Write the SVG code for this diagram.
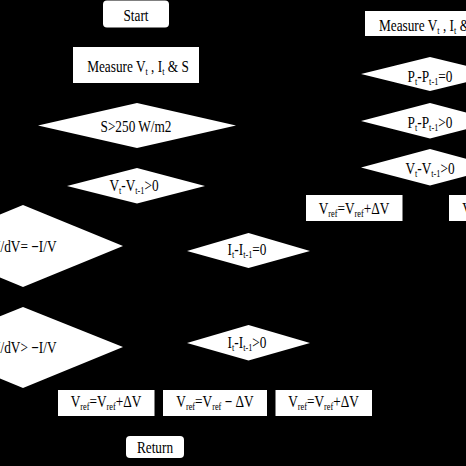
<svg xmlns="http://www.w3.org/2000/svg" width="466" height="466" viewBox="0 0 466 466">
  <style>
    .shape { fill: #ffffff; stroke: none; }
    .lbl { font-family: "Liberation Serif", "DejaVu Serif", serif; font-size: 16px; fill: #000000; text-anchor: middle; }
    .lbl.left { text-anchor: start; }
    .sub { font-size: 10px; }
    .minus { font-weight: bold; }
  </style>
  <rect width="466" height="466" fill="#000000"/>

  <!-- left column -->
  <g id="start">
    <rect class="shape" x="103" y="0.5" width="66" height="27" rx="4"/>
    <g transform="translate(136,20.5) scale(0.83,1)"><text class="lbl" font-family="Liberation Serif, serif">Start</text></g>
  </g>
  <g id="measure">
    <rect class="shape" x="73" y="47" width="126" height="36"/>
    <g transform="translate(138,71.5) scale(0.83,1)"><text class="lbl" font-family="Liberation Serif, serif">Measure V<tspan class="sub" dy="3">t</tspan><tspan dy="-3"> , I</tspan><tspan class="sub" dy="3">t</tspan><tspan dy="-3"> &amp; S</tspan></text></g>
  </g>
  <g id="irradiance">
    <polygon class="shape" points="38,125.5 137,103 236,125.5 137,148"/>
    <g transform="translate(136,131.5) scale(0.83,1)"><text class="lbl" font-family="Liberation Serif, serif">S&gt;250 W/m2</text></g>
  </g>
  <g id="dv-left">
    <polygon class="shape" points="67,186 137,168 205,186 137,203.5"/>
    <g transform="translate(134,190.5) scale(0.83,1)"><text class="lbl" font-family="Liberation Serif, serif">V<tspan class="sub" dy="3">t</tspan><tspan dy="-3">-V</tspan><tspan class="sub" dy="3">t-1</tspan><tspan dy="-3">&gt;0</tspan></text></g>
  </g>
  <g id="incond-eq">
    <polygon class="shape" points="-77,246 23,205 123,246 23,287"/>
    <g transform="translate(23,251.5) scale(0.83,1)"><text class="lbl" font-family="Liberation Serif, serif">dI/dV= <tspan class="minus">−</tspan>I/V</text></g>
  </g>
  <g id="incond-gt">
    <polygon class="shape" points="-77,347 23,307 123,347 23,388"/>
    <g transform="translate(23,353) scale(0.83,1)"><text class="lbl" font-family="Liberation Serif, serif">dI/dV&gt; <tspan class="minus">−</tspan>I/V</text></g>
  </g>
  <g id="di-zero">
    <polygon class="shape" points="187,251 248.5,233 310,251 248.5,268"/>
    <g transform="translate(247,255) scale(0.83,1)"><text class="lbl" font-family="Liberation Serif, serif">I<tspan class="sub" dy="3">t</tspan><tspan dy="-3">-I</tspan><tspan class="sub" dy="3">t-1</tspan><tspan dy="-3">=0</tspan></text></g>
  </g>
  <g id="di-pos">
    <polygon class="shape" points="187,343 248.5,325 310,343 248.5,360.5"/>
    <g transform="translate(247,348) scale(0.83,1)"><text class="lbl" font-family="Liberation Serif, serif">I<tspan class="sub" dy="3">t</tspan><tspan dy="-3">-I</tspan><tspan class="sub" dy="3">t-1</tspan><tspan dy="-3">&gt;0</tspan></text></g>
  </g>
  <g id="vref-inc-1">
    <rect class="shape" x="58" y="390" width="96.5" height="26"/>
    <g transform="translate(106,406.5) scale(0.83,1)"><text class="lbl" font-family="Liberation Serif, serif">V<tspan class="sub" dy="3">ref</tspan><tspan dy="-3">=V</tspan><tspan class="sub" dy="3">ref</tspan><tspan dy="-3">+ΔV</tspan></text></g>
  </g>
  <g id="vref-dec-1">
    <rect class="shape" x="163" y="390" width="104" height="26"/>
    <g transform="translate(215,406.5) scale(0.83,1)"><text class="lbl" font-family="Liberation Serif, serif">V<tspan class="sub" dy="3">ref</tspan><tspan dy="-3">=V</tspan><tspan class="sub" dy="3">ref</tspan><tspan dy="-3" class="minus"> − </tspan><tspan>ΔV</tspan></text></g>
  </g>
  <g id="vref-inc-2">
    <rect class="shape" x="275.5" y="390" width="96.5" height="26"/>
    <g transform="translate(323.5,406.5) scale(0.83,1)"><text class="lbl" font-family="Liberation Serif, serif">V<tspan class="sub" dy="3">ref</tspan><tspan dy="-3">=V</tspan><tspan class="sub" dy="3">ref</tspan><tspan dy="-3">+ΔV</tspan></text></g>
  </g>
  <g id="return">
    <rect class="shape" x="126" y="436" width="58" height="22" rx="4"/>
    <g transform="translate(155,452.5) scale(0.83,1)"><text class="lbl" font-family="Liberation Serif, serif">Return</text></g>
  </g>

  <!-- right column -->
  <g id="measure-p">
    <rect class="shape" x="365" y="11" width="132" height="25"/>
    <g transform="translate(379,31) scale(0.83,1)"><text class="lbl left" font-family="Liberation Serif, serif">Measure V<tspan class="sub" dy="3">t</tspan><tspan dy="-3"> , I</tspan><tspan class="sub" dy="3">t</tspan><tspan dy="-3"> &amp; P</tspan></text></g>
  </g>
  <g id="dp-zero">
    <polygon class="shape" points="361,74 430,57 499,74 430,91"/>
    <g transform="translate(430,81.5) scale(0.83,1)"><text class="lbl" font-family="Liberation Serif, serif">P<tspan class="sub" dy="3">t</tspan><tspan dy="-3">-P</tspan><tspan class="sub" dy="3">t-1</tspan><tspan dy="-3">=0</tspan></text></g>
  </g>
  <g id="dp-pos">
    <polygon class="shape" points="361,121 430,103 499,121 430,138.5"/>
    <g transform="translate(430,128.3) scale(0.83,1)"><text class="lbl" font-family="Liberation Serif, serif">P<tspan class="sub" dy="3">t</tspan><tspan dy="-3">-P</tspan><tspan class="sub" dy="3">t-1</tspan><tspan dy="-3">&gt;0</tspan></text></g>
  </g>
  <g id="dv-right">
    <polygon class="shape" points="361,167.5 430,149 499,167.5 430,185.5"/>
    <g transform="translate(430,174) scale(0.83,1)"><text class="lbl" font-family="Liberation Serif, serif">V<tspan class="sub" dy="3">t</tspan><tspan dy="-3">-V</tspan><tspan class="sub" dy="3">t-1</tspan><tspan dy="-3">&gt;0</tspan></text></g>
  </g>
  <g id="vref-inc-3">
    <rect class="shape" x="306" y="195" width="96.5" height="26"/>
    <g transform="translate(354,213.5) scale(0.83,1)"><text class="lbl" font-family="Liberation Serif, serif">V<tspan class="sub" dy="3">ref</tspan><tspan dy="-3">=V</tspan><tspan class="sub" dy="3">ref</tspan><tspan dy="-3">+ΔV</tspan></text></g>
  </g>
  <g id="vref-dec-2">
    <rect class="shape" x="449" y="195" width="104" height="26"/>
    <g transform="translate(501,213.5) scale(0.83,1)"><text class="lbl" font-family="Liberation Serif, serif">V<tspan class="sub" dy="3">ref</tspan><tspan dy="-3">=V</tspan><tspan class="sub" dy="3">ref</tspan><tspan dy="-3" class="minus"> − </tspan><tspan>ΔV</tspan></text></g>
  </g>
</svg>
